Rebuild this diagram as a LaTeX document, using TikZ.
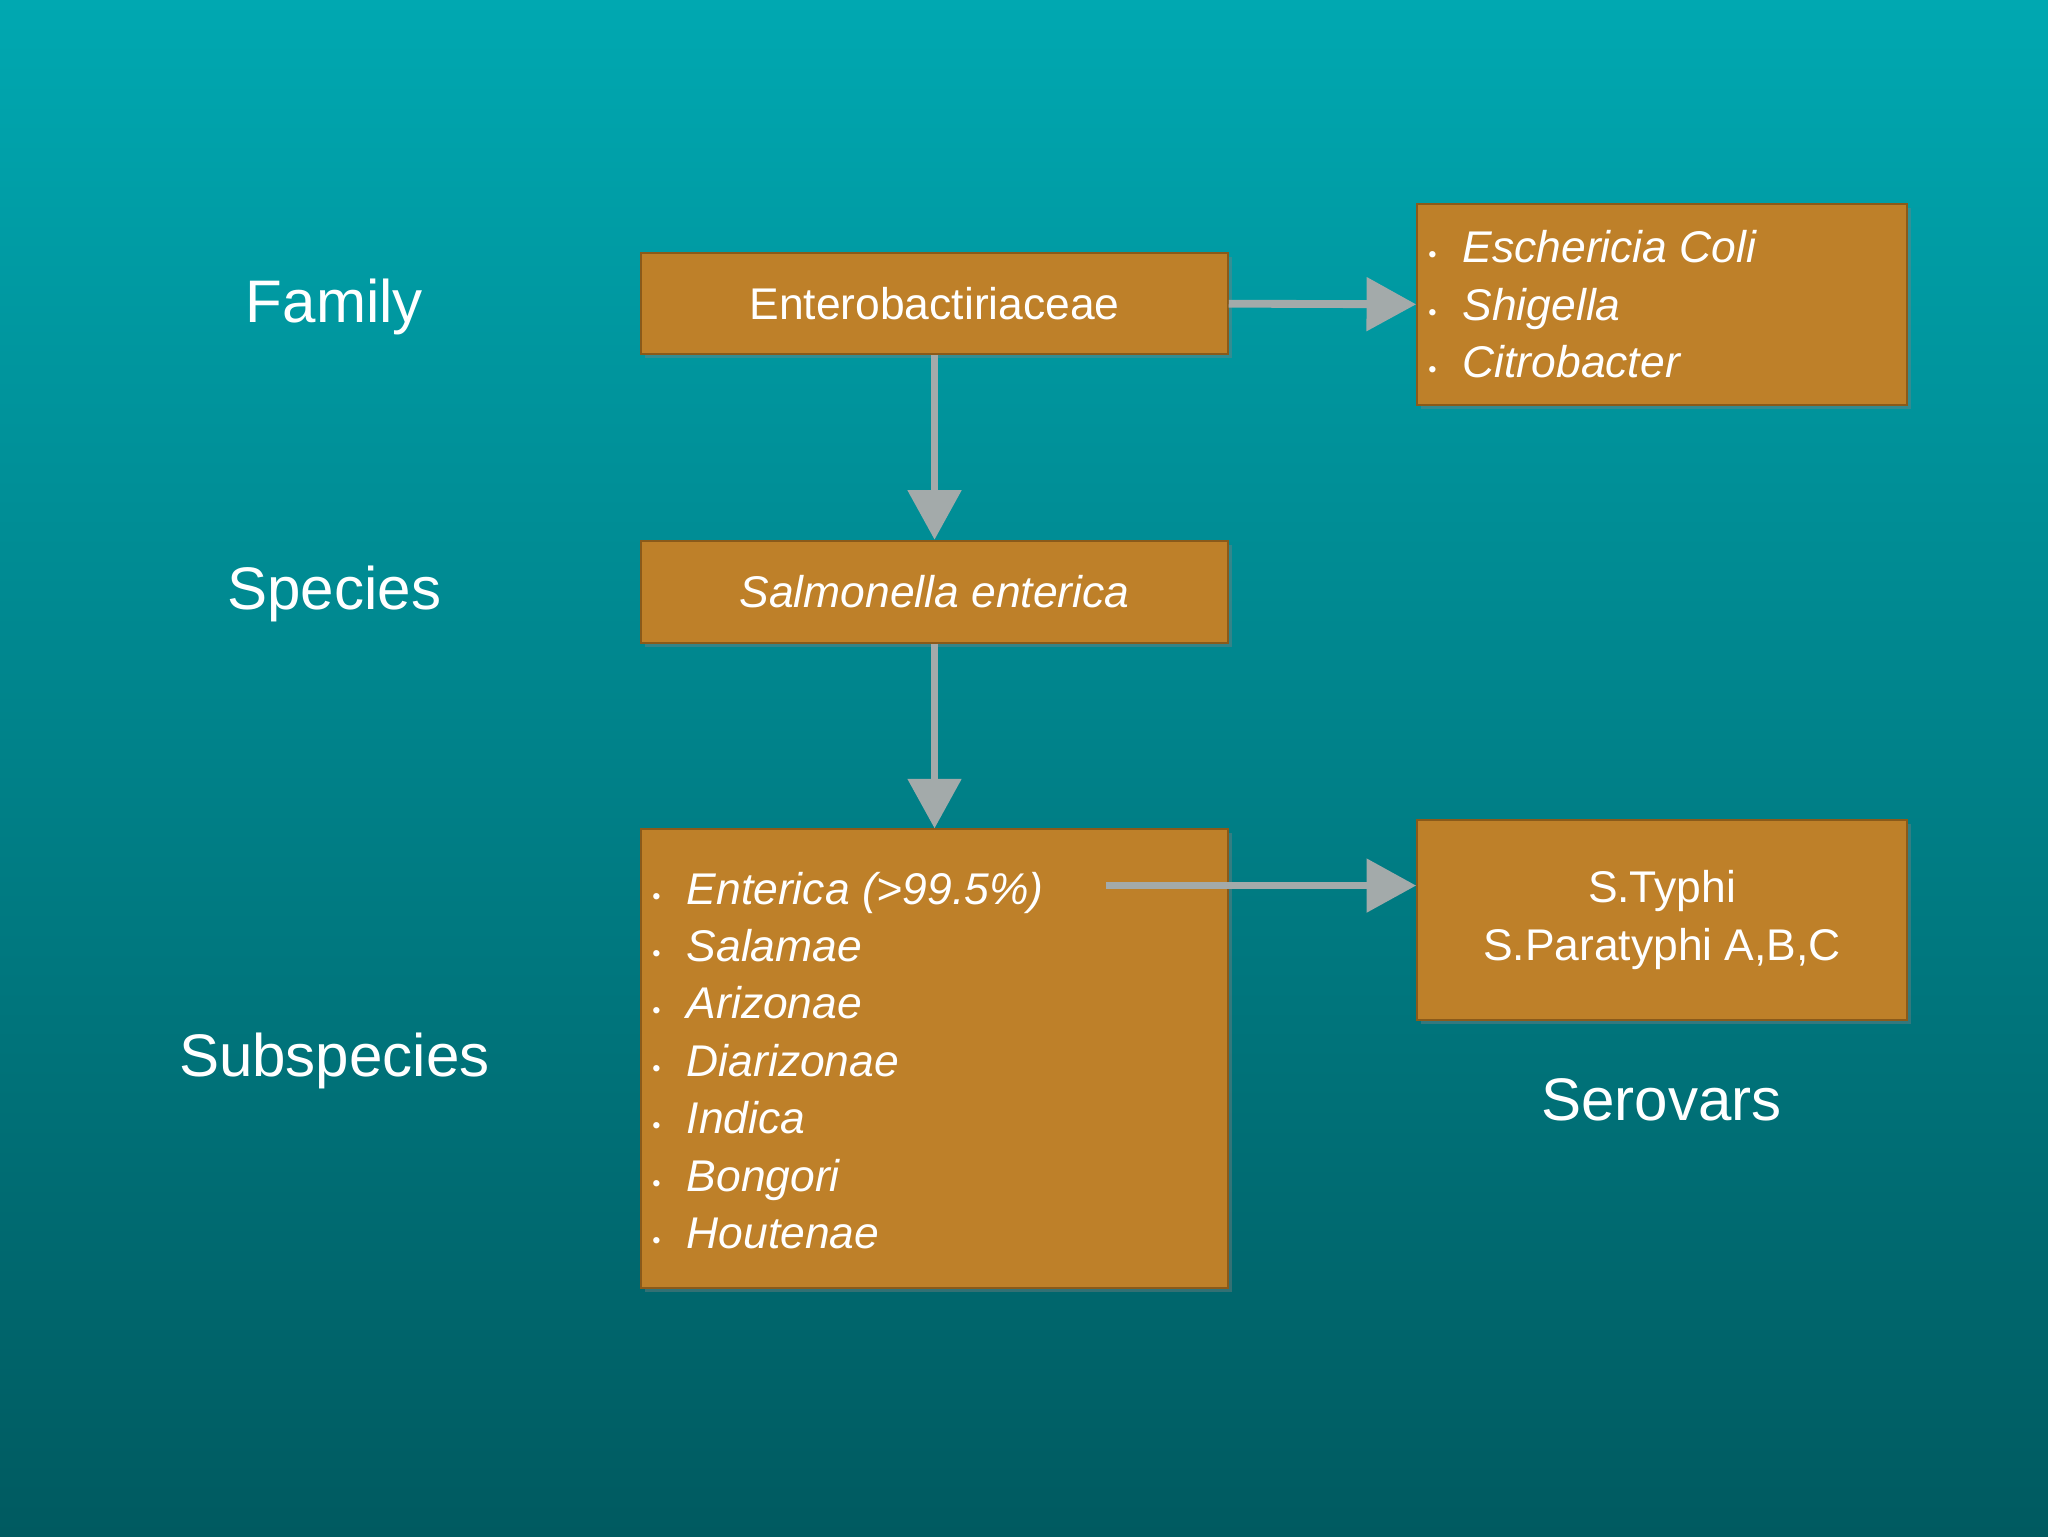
\documentclass[tikz,border=0pt]{standalone}
\usepackage{fontspec}
\setmainfont{Liberation Sans}
\usetikzlibrary{arrows.meta,shadows}
\definecolor{boxfill}{HTML}{BE8029}
\definecolor{boxline}{HTML}{8A5A1A}
\definecolor{bgtop}{HTML}{00A8B1}
\definecolor{bgbot}{HTML}{005A60}
\definecolor{arr}{HTML}{A3AAAA}
\begin{document}
\begin{tikzpicture}[x=1pt,y=-1pt,
  box/.style={draw=boxline,line width=1.5pt,fill=boxfill,drop shadow={shadow xshift=3pt,shadow yshift=-3pt,opacity=0.4},text=white,font=\fontsize{34}{44}\selectfont},
  lbl/.style={text=white,font=\fontsize{46}{50}\selectfont},
  con/.style={draw=arr,line width=6pt,-{Triangle[length=38pt,width=40pt]}}]
\shade[top color=bgtop,bottom color=bgbot] (0,0) rectangle (1568,1176);
\useasboundingbox (0,0) rectangle (1568,1176);
\node[box,minimum width=449pt,minimum height=77pt] (ent) at (715.5,232.5) {Enterobactiriaceae};
\node[box,minimum width=375pt,minimum height=154pt] (oth) at (1272.5,233) {};
\node[text=white,font=\fontsize{34}{44}\selectfont,anchor=west,align=left] (othl) at (1090,233) {\fontsize{18}{44}\selectfont•\hspace{20pt}\fontsize{34}{44}\selectfont\itshape Eschericia Coli\\\fontsize{18}{44}\selectfont•\hspace{20pt}\fontsize{34}{44}\selectfont\itshape Shigella\\\fontsize{18}{44}\selectfont•\hspace{20pt}\fontsize{34}{44}\selectfont\itshape Citrobacter};
\node[box,minimum width=449pt,minimum height=78pt] (sal) at (715.5,453) {\itshape Salmonella enterica};
\node[box,minimum width=449pt,minimum height=351pt] (sub) at (715.5,810.5) {};
\node[text=white,anchor=west,align=left,font=\fontsize{34}{44}\selectfont] (subl) at (496,812) {%
\fontsize{18}{44}\selectfont•\hspace{20pt}\fontsize{34}{44}\selectfont\itshape Enterica (>99.5\%)\\
\fontsize{18}{44}\selectfont•\hspace{20pt}\fontsize{34}{44}\selectfont\itshape Salamae\\
\fontsize{18}{44}\selectfont•\hspace{20pt}\fontsize{34}{44}\selectfont\itshape Arizonae\\
\fontsize{18}{44}\selectfont•\hspace{20pt}\fontsize{34}{44}\selectfont\itshape Diarizonae\\
\fontsize{18}{44}\selectfont•\hspace{20pt}\fontsize{34}{44}\selectfont\itshape Indica\\
\fontsize{18}{44}\selectfont•\hspace{20pt}\fontsize{34}{44}\selectfont\itshape Bongori\\
\fontsize{18}{44}\selectfont•\hspace{20pt}\fontsize{34}{44}\selectfont\itshape Houtenae};
\node[box,minimum width=375pt,minimum height=153pt,align=center] (ser) at (1272.5,704.5) {S.Typhi\\S.Paratyphi A,B,C};
\node[lbl] (fam) at (256,235) {Family};
\node[lbl] (spe) at (256,455) {Species};
\node[lbl] (ssp) at (256,812) {Subspecies};
\node[lbl] (svr) at (1272,842) {Serovars};
\coordinate (es) at (847,678);
\draw[con] (ent.east) -- (oth.west);
\draw[con] (ent.south) -- (sal.north);
\draw[con] (sal.south) -- (sub.north);
\draw[con] (es) -- (ser.west |- es);
\end{tikzpicture}
\end{document}
